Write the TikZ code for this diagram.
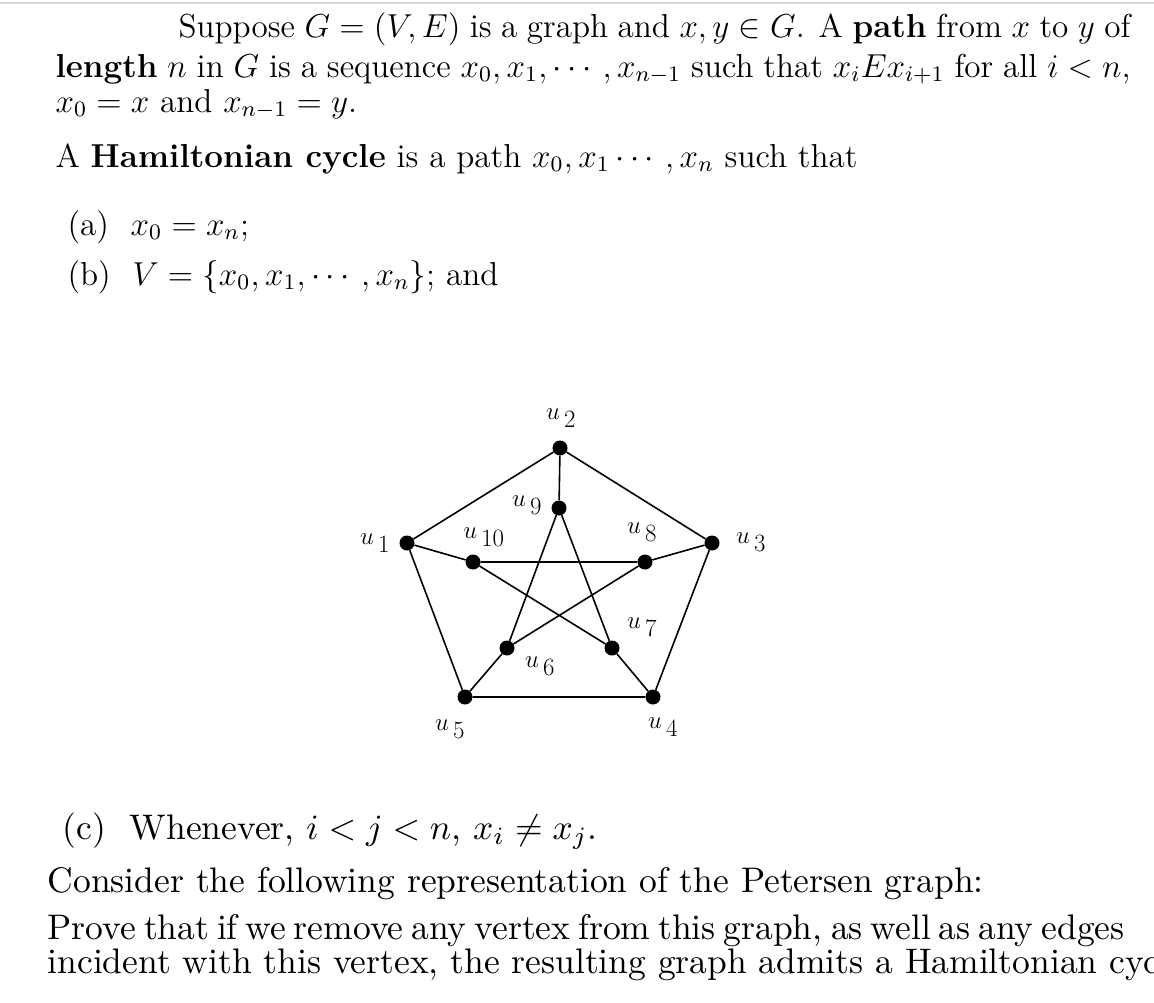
\documentclass[tikz,border=0pt]{standalone}
\usepackage{amsmath}
\newsavebox\calA
\newsavebox\calB
\begin{document}
\sbox\calA{\fontsize{12}{14}\selectfont A \textbf{Hamiltonian cycle} is a path $x_0,x_1\cdots,x_n$ such that}%
\sbox\calB{\fontsize{10}{12}\selectfont Consider the following representation of the Petersen graph:}%
\pgfmathsetmacro\ts{802/\wd\calA}%
\pgfmathsetmacro\bs{936/\wd\calB}%
\pgfmathsetmacro\twa{952/\ts}%
\pgfmathsetmacro\twb{1075/\ts}%
\pgfmathsetmacro\twc{1073/\bs}%
\begin{tikzpicture}[x=1pt,y=-1pt,
  vtx/.style={circle,fill=black,inner sep=0pt,minimum size=15pt},
  lbl/.style={inner sep=0pt,font=\fontsize{34}{34}\selectfont},
  edge/.style={line width=1.6pt},
  tl/.style={anchor=base west,inner sep=0pt,font=\fontsize{12}{14}\selectfont,scale=\ts},
  bl/.style={anchor=base west,inner sep=0pt,font=\fontsize{10}{12}\selectfont,scale=\bs}]
\useasboundingbox (0,0) rectangle (1154,1002);
\draw[gray!30,line width=2pt] (0,3) -- (1154,3);
% text top
\node[tl] (t1) at (178,37) {\makebox[\twa pt][s]{Suppose $G=(V,E)$ is a graph and $x,y\in G$. A \textbf{path} from $x$ to $y$ of}};
\node[tl] (t2) at (55,77) {\makebox[\twb pt][s]{\textbf{length} $n$ in $G$ is a sequence $x_0,x_1,\cdots,x_{n-1}$ such that $x_iEx_{i+1}$ for all $i<n$,}};
\node[tl] (t3) at (55,112) {$x_0=x$ and $x_{n-1}=y$.};
\node[tl] (t4) at (55,167) {A \textbf{Hamiltonian cycle} is a path $x_0,x_1\cdots,x_n$ such that};
\node[tl] (t5) at (67,235) {(a)\ \ $x_0=x_n$;};
\node[tl] (t6) at (67,285) {(b)\ \ $V=\{x_0,x_1,\cdots,x_n\}$; and};
% graph
\node[vtx] (u2) at (560,448) {};
\node[vtx] (u9) at (559,508) {};
\node[vtx] (u1) at (407,543) {};
\node[vtx] (u10) at (473,562) {};
\node[vtx] (u8) at (645,562) {};
\node[vtx] (u3) at (712,543) {};
\node[vtx] (u7) at (612,648) {};
\node[vtx] (u6) at (507,648) {};
\node[vtx] (u5) at (465,697) {};
\node[vtx] (u4) at (653,697) {};
\draw[edge] (u2)--(u3)--(u4)--(u5)--(u1)--(u2);
\draw[edge] (u9)--(u6)--(u8)--(u10)--(u7)--(u9);
\draw[edge] (u1)--(u10) (u2)--(u9) (u3)--(u8) (u4)--(u7) (u5)--(u6);
\node[lbl] (l2) at (561,418) {$u_{\,2}$};
\node[lbl] (l9) at (527,505) {$u_{\,9}$};
\node[lbl] (l1) at (375,543) {$u_{\,1}$};
\node[lbl] (l10) at (484,537) {$u_{\,10}$};
\node[lbl] (l8) at (642,532) {$u_{\,8}$};
\node[lbl] (l3) at (751,542) {$u_{\,3}$};
\node[lbl] (l7) at (642,627) {$u_{\,7}$};
\node[lbl] (l6) at (540,666) {$u_{\,6}$};
\node[lbl] (l5) at (450,729) {$u_{\,5}$};
\node[lbl] (l4) at (663,727) {$u_{\,4}$};
% text bottom
\node[bl] (b1) at (62,839) {(c)\ \ Whenever, $i<j<n$, $x_i\neq x_j$.};
\node[bl] (b2) at (47,892) {Consider the following representation of the Petersen graph:};
\node[bl] (b3) at (47,939) {\makebox[\twc pt][s]{Prove that if we remove any vertex from this graph, as well as any edges}};
\node[bl] (b4) at (47,973) {incident with this vertex, the resulting graph admits a Hamiltonian cycle.};
\end{tikzpicture}
\end{document}
